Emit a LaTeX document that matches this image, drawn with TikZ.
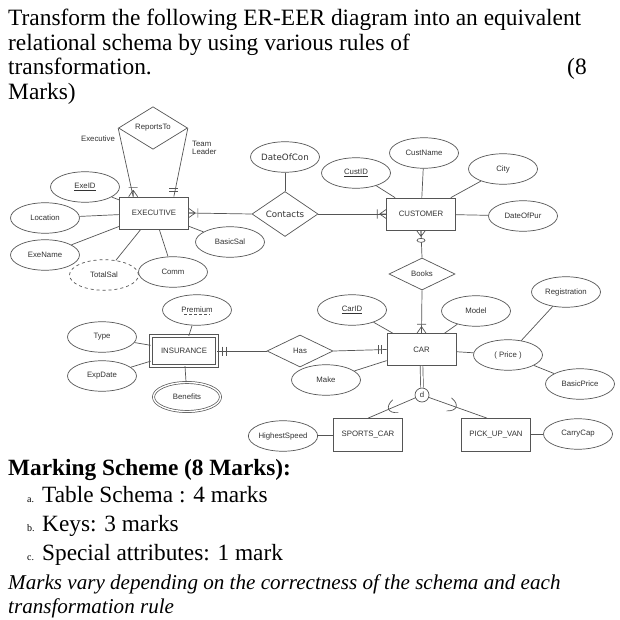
\documentclass[tikz,border=0pt]{standalone}
\usepackage{fontspec}
\setmainfont{Liberation Serif}
\newfontfamily\dfont{Liberation Sans}
\newfontfamily\cfont{DejaVu Sans}
\usetikzlibrary{shapes.geometric,calc}
\newcommand\bigsz{\fontsize{23.4}{25}\selectfont}
\newcommand\dsz{\dfont\fontsize{7.8}{9}\selectfont}
\newcommand\csz{\cfont\fontsize{8.7}{10}\selectfont}
\definecolor{lncol}{HTML}{555555}
\definecolor{txcol}{HTML}{333333}
\begin{document}
\begin{tikzpicture}[x=1pt,y=-1pt,
  ln/.style={draw=lncol, line width=0.7pt},
  ent/.style={ln, rectangle, minimum width=69pt, minimum height=32pt, inner sep=0pt, font=\dsz, text=txcol},
  att/.style={ln, ellipse, minimum width=69pt, minimum height=30.5pt, inner sep=0pt, font=\dsz, text=txcol},
  rel/.style={ln, diamond, minimum width=66pt, minimum height=32pt, inner sep=0pt, font=\dsz, text=txcol},
  lbl/.style={font=\dsz, text=txcol, inner sep=0pt},
  txt/.style={font=\bigsz, anchor=base west, inner sep=0pt, text=black},
  onemany/.pic={\draw[ln] (0,-6.5)--(-4.5,0) (0,-6.5)--(0,0) (0,-6.5)--(4.5,0) (-4.5,-9)--(4.5,-9);},
  zeromany/.pic={\draw[ln] (0,-6)--(-4.5,0) (0,-6)--(0,0) (0,-6)--(4.5,0); \draw[ln, fill=white] (0,-10) ellipse (4 and 2);},
  onlyone/.pic={\draw[ln] (-4.5,-5)--(4.5,-5) (-4.5,-8.5)--(4.5,-8.5);},
  subsetsym/.pic={\draw[ln] (-7,-10) .. controls (-3.5,0) and (3.5,0) .. (7,-10);}
]
\fill[white] (0,0) rectangle (619,620);
\useasboundingbox (0,0) rectangle (619,620);

% ---------- header text ----------
\node[txt] (t1) at (8,26) {Transform the following ER-EER diagram into an equivalent};
\node[txt] (t2) at (8,50.5) {relational schema by using various rules of};
\node[txt] (t3) at (8,75) {transformation.};
\node[txt] (t3b) at (567,75) {(8};
\node[txt] (t4) at (8,99.5) {Marks)};

% ---------- EXECUTIVE part ----------
\node[rel, minimum width=69pt] (reports) at (153,128) {ReportsTo};
\node[lbl] (lexec) at (98,139) {Executive};
\node[lbl, anchor=west, align=left] (lteam) at (192,147.5) {Team\\[-1pt]Leader};
\node[ent] (exec) at (154,213) {EXECUTIVE};
\node[rel, font=\csz] (contacts) at (285,214) {Contacts};
\node[att, font=\csz] (datecon) at (285,157) {DateOfCon};
\node[att] (exeid) at (85,187) {\underline{ExeID}};
\node[att] (loc) at (45,218) {Location};
\node[att] (exename) at (45,255) {ExeName};
\node[att, dashed] (totalsal) at (104,275) {TotalSal};
\node[att] (comm) at (173,272) {Comm};
\node[att] (basicsal) at (230,242) {BasicSal};

% ---------- CUSTOMER part ----------
\node[ent] (cust) at (421,214) {CUSTOMER};
\node[att] (custid) at (356,173) {\underline{CustID}};
\node[att] (custname) at (424,153) {CustName};
\node[att] (city) at (503,169) {City};
\node[att] (dateofpur) at (523,216) {DateOfPur};
\node[rel] (books) at (422,274) {Books};

% ---------- CAR part ----------
\node[ent] (car) at (421.5,349.5) {CAR};
\node[att] (carid) at (352,310) {\underline{CarID}};
\node[att] (model) at (476,311) {Model};
\node[att] (reg) at (566,292) {Registration};
\node[att] (price) at (508,355) {( Price )};
\node[att] (basicprice) at (580,384) {BasicPrice};
\node[rel] (has) at (300,351) {Has};
\node[att] (make) at (326,380) {Make};

% ---------- INSURANCE part ----------
\node[ent, double, double distance=2.4pt, minimum width=66pt, minimum height=29.5pt] (ins) at (184,351) {INSURANCE};
\node[att] (premium) at (197,310) {Premium};
\node[att] (type) at (102,337) {Type};
\node[att] (expdate) at (102,376) {ExpDate};
\node[att, double, double distance=1.4pt, minimum width=67pt, minimum height=29pt] (benefits) at (187,397) {Benefits};

% ---------- specialization ----------
\node[circle, ln, minimum size=14pt, inner sep=0pt, font=\dsz, text=txcol] (d) at (422,395) {d};
\node[ent, minimum height=33pt] (sports) at (368,435) {SPORTS\_CAR};
\node[ent, minimum height=33pt] (pick) at (496,435) {PICK\_UP\_VAN};
\node[att] (highspeed) at (283,436) {HighestSpeed};
\node[att] (carrycap) at (578,434) {CarryCap};

% ---------- connectors ----------
\coordinate (et1) at ([xshift=14pt]exec.north west);
\coordinate (et2) at ([xshift=-15pt]exec.north east);
\coordinate (pk) at ([xshift=-9pt]pick.north);
\draw[ln] (reports.west) -- (et1);
\draw[ln] (reports.east) -- (et2);
\pic at (et1) {onemany};
\pic at (et2) {onlyone};

\draw[ln] (exec.east) -- (contacts.west);
\draw[ln] (contacts.east) -- (cust.west);
\pic[rotate=-90] at (exec.east) {onemany};
\pic[rotate=90] at (cust.west) {onemany};
\draw[ln] (datecon) -- (contacts.north);

\draw[ln] (exeid) -- (exec);
\draw[ln] (loc) -- (exec);
\draw[ln] (exename) -- (exec);
\draw[ln] (totalsal) -- (exec);
\draw[ln] (comm) -- (exec);
\draw[ln] (basicsal) -- (exec);

\draw[ln] (custid) -- (cust);
\draw[ln] (custname) -- (cust);
\draw[ln] (city) -- (cust);
\draw[ln] (dateofpur) -- (cust);

\draw[ln] (cust.south) -- (books.north);
\pic[rotate=180] at (cust.south) {zeromany};
\draw[ln] (books.south) -- (car.north);
\pic at (car.north) {onemany};

\draw[ln] (carid) -- (car);
\draw[ln] (model) -- (car);
\draw[ln] (price) -- (car);
\draw[ln] (reg) -- (price);
\draw[ln] (basicprice) -- (price);
\draw[ln] (make) -- (car);

\draw[ln] (ins.east) -- (has.west);
\draw[ln] (has.east) -- (car.west);
\pic[rotate=-90] at (ins.east) {onlyone};
\pic[rotate=90] at (car.west) {onlyone};

\draw[ln] (premium) -- (ins);
\draw[ln] (type) -- (ins);
\draw[ln] (expdate) -- (ins);
\draw[ln] (benefits) -- (ins);
\draw[ln, densely dashed, line width=0.5pt] ($(premium.center)+(-13,4.5)$) -- ($(premium.center)+(13,4.5)$);

\draw[ln, double, double distance=2pt] (car.south) -- (d.north);
\draw[ln] (d) -- (sports.north);
\draw[ln] (d) -- (pk);
\pic[rotate=-66] at ($(d)!0.66!(sports.north)$) {subsetsym};
\pic[rotate=69] at ($(d)!0.56!(pk)$) {subsetsym};
\draw[ln] (highspeed) -- (sports);
\draw[ln] (carrycap) -- (pick);

% ---------- marking scheme ----------
\node[txt, font=\bfseries\fontsize{23.3}{25}\selectfont] (ms) at (8,475) {Marking Scheme (8 Marks):};
\node[txt, font=\fontsize{10}{11}\selectfont] (la) at (27,502) {a.};
\node[txt, font=\fontsize{23.3}{25}\selectfont] (ta) at (42,502) {Table Schema : 4 marks};
\node[txt, font=\fontsize{10}{11}\selectfont] (lb) at (27,531) {b.};
\node[txt, font=\fontsize{23.3}{25}\selectfont] (tb) at (42,531) {Keys: 3 marks};
\node[txt, font=\fontsize{10}{11}\selectfont] (lc) at (27,560) {c.};
\node[txt, font=\fontsize{23.3}{25}\selectfont] (tc) at (42,560) {Special attributes: 1 mark};
\node[txt, font=\itshape\fontsize{21.1}{23}\selectfont] (i1) at (8,589) {Marks vary depending on the correctness of the schema and each};
\node[txt, font=\itshape\fontsize{21.1}{23}\selectfont] (i2) at (8,613) {transformation rule};
\end{tikzpicture}
\end{document}
